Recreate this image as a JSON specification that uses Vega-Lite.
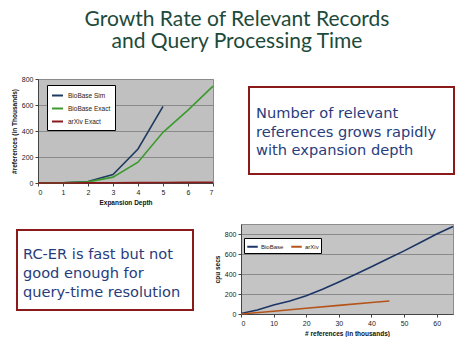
{
  "$schema": "https://vega.github.io/schema/vega-lite/v6.json",
  "background": "white",
  "padding": {"left": 10, "top": 4, "right": 0, "bottom": 0},
  "datasets": {
    "title": [
      {"line": 1, "text": "Growth Rate of Relevant Records"},
      {"line": 2, "text": "and Query Processing Time"}
    ],
    "growth": [
      {"series": "BioBase Sim", "depth": 0, "refs": 0},
      {"series": "BioBase Sim", "depth": 1, "refs": 1},
      {"series": "BioBase Sim", "depth": 2, "refs": 12},
      {"series": "BioBase Sim", "depth": 3, "refs": 65},
      {"series": "BioBase Sim", "depth": 4, "refs": 262},
      {"series": "BioBase Sim", "depth": 5, "refs": 590},
      {"series": "BioBase Exact", "depth": 0, "refs": 0},
      {"series": "BioBase Exact", "depth": 1, "refs": 1},
      {"series": "BioBase Exact", "depth": 2, "refs": 9},
      {"series": "BioBase Exact", "depth": 3, "refs": 45},
      {"series": "BioBase Exact", "depth": 4, "refs": 160},
      {"series": "BioBase Exact", "depth": 5, "refs": 390},
      {"series": "BioBase Exact", "depth": 6, "refs": 560},
      {"series": "BioBase Exact", "depth": 7, "refs": 745},
      {"series": "arXiv Exact", "depth": 0, "refs": 0},
      {"series": "arXiv Exact", "depth": 1, "refs": 0},
      {"series": "arXiv Exact", "depth": 2, "refs": 1},
      {"series": "arXiv Exact", "depth": 3, "refs": 2},
      {"series": "arXiv Exact", "depth": 4, "refs": 3},
      {"series": "arXiv Exact", "depth": 5, "refs": 4},
      {"series": "arXiv Exact", "depth": 6, "refs": 5},
      {"series": "arXiv Exact", "depth": 7, "refs": 6}
    ],
    "cpu": [
      {"series": "BioBase", "refs": 0, "secs": 5},
      {"series": "BioBase", "refs": 5, "secs": 40},
      {"series": "BioBase", "refs": 10, "secs": 90},
      {"series": "BioBase", "refs": 15, "secs": 130},
      {"series": "BioBase", "refs": 20, "secs": 182},
      {"series": "BioBase", "refs": 25, "secs": 248},
      {"series": "BioBase", "refs": 30, "secs": 320},
      {"series": "BioBase", "refs": 35, "secs": 395},
      {"series": "BioBase", "refs": 40, "secs": 473},
      {"series": "BioBase", "refs": 45, "secs": 552},
      {"series": "BioBase", "refs": 50, "secs": 631},
      {"series": "BioBase", "refs": 55, "secs": 715},
      {"series": "BioBase", "refs": 60, "secs": 800},
      {"series": "BioBase", "refs": 65, "secs": 875},
      {"series": "arXiv", "refs": 0, "secs": 0},
      {"series": "arXiv", "refs": 10, "secs": 28},
      {"series": "arXiv", "refs": 20, "secs": 57},
      {"series": "arXiv", "refs": 30, "secs": 86},
      {"series": "arXiv", "refs": 40, "secs": 115},
      {"series": "arXiv", "refs": 45.5, "secs": 130}
    ],
    "box1": [
      {"line": 1, "text": "Number of relevant"},
      {"line": 2, "text": "references grows rapidly"},
      {"line": 3, "text": "with expansion depth"}
    ],
    "box2": [
      {"line": 1, "text": "RC-ER is fast but not"},
      {"line": 2, "text": "good enough for"},
      {"line": 3, "text": "query-time resolution"}
    ]
  },
  "spacing": 16,
  "resolve": {"scale": {"color": "independent", "x": "independent", "y": "independent"}, "legend": {"color": "independent"}},
  "vconcat": [
    {
      "width": 398, "height": 54,
      "data": {"name": "title"},
      "mark": {"type": "text", "align": "center", "baseline": "middle", "font": "Lato", "fontSize": 21, "color": "#1d4a3a"},
      "encoding": {
        "x": {"datum": 0.5, "type": "quantitative", "scale": {"domain": [0, 1]}, "axis": null},
        "y": {"field": "line", "type": "quantitative", "scale": {"domain": [0.3, 2.7], "reverse": true, "nice": false, "zero": false}, "axis": null},
        "text": {"field": "text"}
      }
    },
    {
      "spacing": 31,
      "resolve": {"scale": {"color": "independent", "x": "independent", "y": "independent"}, "legend": {"color": "independent"}},
      "hconcat": [
        {
          "width": 175, "height": 104,
          "data": {"name": "growth"},
          "view": {"fill": "#c0c0c0", "stroke": "#8c8c8c"},
          "mark": {"type": "line", "strokeWidth": 1.6},
          "encoding": {
            "x": {"field": "depth", "type": "quantitative", "scale": {"domain": [0, 7], "nice": false},
              "axis": {"title": "Expansion Depth", "values": [0, 1, 2, 3, 4, 5, 6, 7], "grid": false}},
            "y": {"field": "refs", "type": "quantitative", "scale": {"domain": [0, 800], "nice": false},
              "axis": {"title": "#references (in Thousands)", "values": [0, 200, 400, 600, 800]}},
            "color": {"field": "series", "type": "nominal",
              "scale": {"domain": ["BioBase Sim", "BioBase Exact", "arXiv Exact"], "range": ["#1f3a60", "#3c9a2e", "#8b1a1a"]},
              "legend": {"orient": "none", "legendX": 9, "legendY": 6, "direction": "vertical", "title": null,
                "fillColor": "white", "strokeColor": "black", "padding": 4, "rowPadding": 2,
                "symbolType": "stroke", "symbolSize": 120, "symbolStrokeWidth": 2,
                "labelFontSize": 6.5, "labelFont": "Liberation Sans", "labelColor": "#222"}}
          }
        },
        {
          "width": 205, "height": 95,
          "data": {"name": "box1"},
          "layer": [
            {
              "mark": {"type": "rect", "fill": "white", "stroke": "#8b1a1a", "strokeWidth": 2},
              "encoding": {
                "x": {"datum": 0, "type": "quantitative", "scale": {"domain": [0, 1]}, "axis": null},
                "x2": {"datum": 1},
                "y": {"datum": -0.46, "type": "quantitative", "scale": {"domain": [-0.892, 4.243], "reverse": true, "nice": false, "zero": false}, "axis": null},
                "y2": {"datum": 4.243}
              }
            },
            {
              "mark": {"type": "text", "align": "left", "baseline": "middle", "font": "DejaVu Sans", "fontSize": 14.6, "color": "#283c7c", "dx": 7},
              "encoding": {
                "x": {"datum": 0, "type": "quantitative", "scale": {"domain": [0, 1]}, "axis": null},
                "y": {"field": "line", "type": "quantitative", "scale": {"domain": [-0.892, 4.243], "reverse": true, "nice": false, "zero": false}, "axis": null},
                "text": {"field": "text"}
              }
            }
          ]
        }
      ]
    },
    {
      "spacing": 19,
      "resolve": {"scale": {"color": "independent", "x": "independent", "y": "independent"}, "legend": {"color": "independent"}},
      "hconcat": [
        {
          "width": 155, "height": 86,
          "data": {"name": "box2"},
          "layer": [
            {
              "mark": {"type": "rect", "fill": "white", "stroke": "#8b1a1a", "strokeWidth": 2},
              "encoding": {
                "x": {"datum": -0.1355, "type": "quantitative", "scale": {"domain": [0, 1]}, "axis": null},
                "x2": {"datum": 1},
                "y": {"datum": -0.316, "type": "quantitative", "scale": {"domain": [-0.632, 3.895], "reverse": true, "nice": false, "zero": false}, "axis": null},
                "y2": {"datum": 3.895}
              }
            },
            {
              "mark": {"type": "text", "align": "left", "baseline": "middle", "font": "DejaVu Sans", "fontSize": 14.6, "color": "#283c7c"},
              "encoding": {
                "x": {"datum": -0.0968, "type": "quantitative", "scale": {"domain": [0, 1]}, "axis": null},
                "y": {"field": "line", "type": "quantitative", "scale": {"domain": [-0.632, 3.895], "reverse": true, "nice": false, "zero": false}, "axis": null},
                "text": {"field": "text"}
              }
            }
          ]
        },
        {
          "width": 212, "height": 90,
          "data": {"name": "cpu"},
          "view": {"fill": "#c4c4c4", "stroke": "#8c8c8c"},
          "mark": {"type": "line", "strokeWidth": 1.6},
          "encoding": {
            "x": {"field": "refs", "type": "quantitative", "scale": {"domain": [0, 65], "nice": false},
              "axis": {"title": "# references (in thousands)", "values": [0, 10, 20, 30, 40, 50, 60], "grid": false}},
            "y": {"field": "secs", "type": "quantitative", "scale": {"domain": [0, 900], "nice": false},
              "axis": {"title": "cpu secs", "values": [0, 200, 400, 600, 800]}},
            "color": {"field": "series", "type": "nominal",
              "scale": {"domain": ["BioBase", "arXiv"], "range": ["#1c3564", "#b5541a"]},
              "legend": {"orient": "none", "legendX": 3, "legendY": 14, "direction": "horizontal", "title": null,
                "fillColor": "white", "strokeColor": "black", "padding": 2, "columnPadding": 3, "labelOffset": 2,
                "symbolType": "stroke", "symbolSize": 110, "symbolStrokeWidth": 2,
                "labelFontSize": 6, "labelFont": "Liberation Sans", "labelColor": "#222"}}
          }
        }
      ]
    }
  ],
  "config": {
    "view": {"stroke": null},
    "axis": {
      "labelFont": "Liberation Sans", "labelFontSize": 7, "labelColor": "#222",
      "titleFont": "Liberation Sans", "titleFontSize": 6.5, "titleFontWeight": "bold", "titleColor": "#111",
      "tickColor": "#444", "tickSize": 3, "domainColor": "#444",
      "gridColor": "#8a8a8a", "gridWidth": 1, "labelPadding": 2, "titlePadding": 4
    }
  }
}
